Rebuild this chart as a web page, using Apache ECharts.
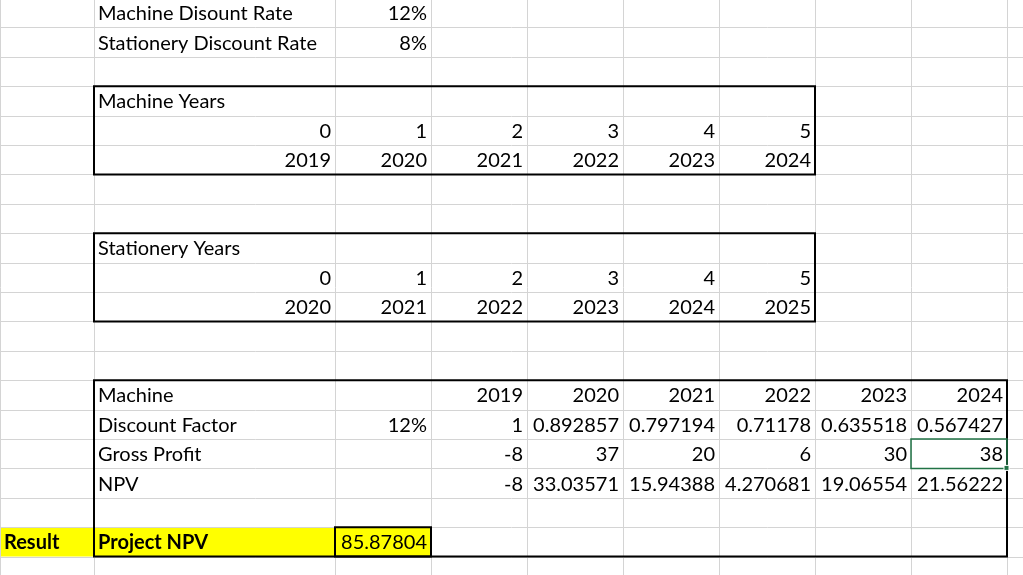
<!DOCTYPE html><html><head><meta charset="utf-8">
<script src="https://cdn.jsdelivr.net/npm/echarts@6/dist/echarts.min.js"></script>
<style>html,body{margin:0;padding:0;background:#fff}#c{width:1023px;height:575px}</style></head><body><div id="c"></div>
<script>
// ---- data ----
const cols = ['A','B','C','D','E','F','G','H','I','J','K'];
const rateLabels = ['Machine Disount Rate','Stationery Discount Rate'];
const rateValues = ['12%','8%'];
const yearIdx = ['0','1','2','3','4','5'];
const machineYears = ['2019','2020','2021','2022','2023','2024'];
const stationeryYears = ['2020','2021','2022','2023','2024','2025'];
const npvHeaders = ['2019','2020','2021','2022','2023','2024'];
const discountFactor = ['1','0.892857','0.797194','0.71178','0.635518','0.567427'];
const grossProfit = ['-8','37','20','6','30','38'];
const npvValues = ['-8','33.03571','15.94388','4.270681','19.06554','21.56222'];
const projectNpv = '85.87804';

// ---- layout ----
const colEdges = [0,94,335,431,527,623,719,815,911,1007,1103];
const rowTop = -2, rowH = 29.4, nRows = 20;
const colIndex = c => cols.indexOf(c);

// cells: [row, col, text, align, bold]
const cells = [];
rateLabels.forEach((t,i)=>{cells.push([i,'B',t,'left',0]);cells.push([i,'C',rateValues[i],'right',0]);});
cells.push([3,'B','Machine Years','left',0]);
yearIdx.forEach((t,i)=>{cells.push([4,cols[1+i],t,'right',0]);cells.push([5,cols[1+i],machineYears[i],'right',0]);});
cells.push([8,'B','Stationery Years','left',0]);
yearIdx.forEach((t,i)=>{cells.push([9,cols[1+i],t,'right',0]);cells.push([10,cols[1+i],stationeryYears[i],'right',0]);});
cells.push([13,'B','Machine','left',0]);
cells.push([14,'B','Discount Factor','left',0]);
cells.push([14,'C','12%','right',0]);
cells.push([15,'B','Gross Profit','left',0]);
cells.push([16,'B','NPV','left',0]);
npvHeaders.forEach((t,i)=>{
  cells.push([13,cols[3+i],t,'right',0]);
  cells.push([14,cols[3+i],discountFactor[i],'right',0]);
  cells.push([15,cols[3+i],grossProfit[i],'right',0]);
  cells.push([16,cols[3+i],npvValues[i],'right',0]);
});
cells.push([18,'A','Result','left',1]);
cells.push([18,'B','Project NPV','left',1]);
cells.push([18,'C',projectNpv,'right',0]);

const fills = [[18,18,'A','C','#ffff00']];
const boxes = [[3,5,'B','G',2,'#000'],[8,10,'B','G',2,'#000'],[13,18,'B','I',2,'#000'],[18,18,'C','C',2,'#000'],[15,15,'I','I',1.5,'#217346']];

const chart = echarts.init(document.getElementById('c'));
const font = 'Lato, "Open Sans", sans-serif';
function px(api,x,y){return api.coord([x,y]);}
chart.setOption({
  animation:false,
  grid:{left:0,right:0,top:0,bottom:0},
  xAxis:{type:'value',min:0,max:1023,show:false},
  yAxis:{type:'value',min:0,max:575,inverse:true,show:false},
  series:[
    {type:'custom',data:[0],renderItem:(p,api)=>{
      const ch=[];
      fills.forEach(f=>{const a=px(api,colEdges[colIndex(f[2])],rowTop+f[0]*rowH),b=px(api,colEdges[colIndex(f[3])+1],rowTop+(f[1]+1)*rowH);
        ch.push({type:'rect',shape:{x:a[0],y:a[1],width:b[0]-a[0],height:b[1]-a[1]},style:{fill:f[4]}});});
      colEdges.forEach(x=>{const a=px(api,x,0),b=px(api,x,575);ch.push({type:'line',shape:{x1:a[0]+0.5,y1:a[1],x2:b[0]+0.5,y2:b[1]},style:{stroke:'#d4d4d4',lineWidth:1}});});
      for(let r=0;r<=nRows;r++){const a=px(api,0,rowTop+r*rowH),b=px(api,1023,rowTop+r*rowH);ch.push({type:'line',shape:{x1:a[0],y1:Math.round(a[1])+0.5,x2:b[0],y2:Math.round(b[1])+0.5},style:{stroke:'#d4d4d4',lineWidth:1}});}
      boxes.forEach(f=>{const a=px(api,colEdges[colIndex(f[2])],rowTop+f[0]*rowH),b=px(api,colEdges[colIndex(f[3])+1],rowTop+(f[1]+1)*rowH);
        ch.push({type:'rect',shape:{x:a[0],y:a[1],width:b[0]-a[0],height:b[1]-a[1]},style:{fill:'none',stroke:f[5],lineWidth:f[4]}});});
      const c=px(api,colEdges[colIndex('I')+1],rowTop+16*rowH);
      ch.push({type:'rect',shape:{x:c[0]-3,y:c[1]-3,width:5,height:5},style:{fill:'#217346',stroke:'#fff',lineWidth:1}});
      return {type:'group',children:ch};
    }},
    {type:'custom',data:cells.map((c,i)=>[i]),renderItem:(p,api)=>{
      const c=cells[api.value(0)];const ci=colIndex(c[1]);
      const yc=rowTop+(c[0]+0.5)*rowH;
      const x=c[3]==='left'?colEdges[ci]+4:colEdges[ci+1]-4;
      const pt=px(api,x,yc);
      return {type:'text',x:pt[0],y:pt[1]+1,style:{text:c[2],fill:'#000',font:(c[4]?'bold ':'')+'20px '+font,textAlign:c[3],textVerticalAlign:'middle'}};
    }}
  ]
});
</script></body></html>
